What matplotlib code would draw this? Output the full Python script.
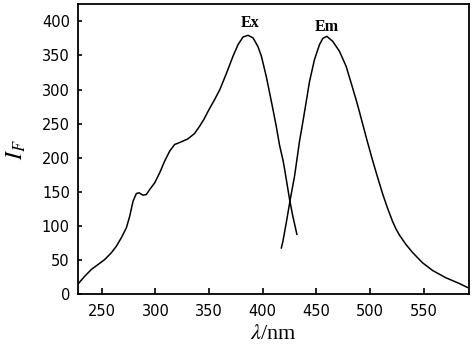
import matplotlib
matplotlib.use("Agg")
import matplotlib.pyplot as plt

plt.rcParams["mathtext.fontset"] = "stix"

# Excitation spectrum (Ex)
ex_wl = [228, 234.2, 240.3, 246.6, 252.8, 258.9, 263.6, 268.2, 272.9, 276, 279.1,
         282.2, 284.7, 288.4, 291.5, 294.6, 299.3, 303.9, 308.5, 313.2, 317.8,
         324, 330.2, 336.4, 341, 345, 350, 355, 360, 366.2, 372.3, 377, 381.6,
         386.3, 391, 395.5, 398.7, 403.3, 406.4, 409.5, 412.6, 415.7, 418.8,
         420.4, 425, 428, 431.8]
ex_int = [15.6, 26.8, 36.6, 43.9, 51.2, 61, 70.7, 83, 97.6, 114.6, 136.5,
          147.8, 148.8, 145.3, 146.3, 153.6, 163.4, 178, 195, 209.7, 219.5,
          223.4, 227.8, 235.6, 246, 256, 271, 285, 300, 324, 349, 366, 377,
          379.5, 375.6, 363, 349, 319, 295, 271, 246, 218, 197,
          183, 139, 114.6, 88]

# Emission spectrum (Em)
em_wl = [417.3, 418.8, 421.9, 425.6, 429.6, 432.7, 434.3, 436, 439, 443.6, 448.2,
         452.9, 456, 459.7, 465.2, 471.5, 477.7, 482.3, 487, 490, 493.2, 497.8,
         502.4, 507.1, 511.7, 516.4, 521, 524.1, 527.2, 533.4, 539.6, 548.9,
         558.2, 570.6, 583, 590.7]
em_int = [68, 78, 105, 139, 173, 207, 225, 240, 268, 312, 344,
          366, 375, 378, 370.6, 356, 334, 310, 285, 268, 249, 222,
          196, 171, 147.3, 125.8, 106.8, 96.1, 87.3, 73.2, 61.4, 46.3,
          35.1, 24.4, 16.1, 10.2]

x_ticks = [250, 300, 350, 400, 450, 500, 550]
y_ticks = [0, 50, 100, 150, 200, 250, 300, 350, 400]

fig = plt.figure(figsize=(4.74, 3.53), dpi=100)
ax = fig.add_axes([0.165, 0.166, 0.824, 0.822])

ax.plot(ex_wl, ex_int, color="black", linewidth=1.1)
ax.plot(em_wl, em_int, color="black", linewidth=1.1)

ax.text(388, 392, "Ex", family="Liberation Serif", fontweight="bold", fontsize=11.5, ha="center", va="baseline")
ax.text(460, 386, "Em", family="Liberation Serif", fontweight="bold", fontsize=11.5, ha="center", va="baseline")

ax.set_xlim(228, 592)
ax.set_ylim(0, 425)
ax.set_xticks(x_ticks)
ax.set_yticks(y_ticks)
ax.tick_params(axis="x", direction="in", length=4, width=1.2, labelsize=10.5, pad=7)
ax.tick_params(axis="y", direction="in", length=3, width=1.2, labelsize=10.5, pad=6)
for lab in ax.get_xticklabels() + ax.get_yticklabels():
    lab.set_family("DejaVu Sans")

for sp in ax.spines.values():
    sp.set_linewidth(1.3)

ax.set_xlabel(r"$\lambda$/nm", family="Liberation Serif", fontsize=16, labelpad=4)
ax.set_ylabel(r"$I_F$", family="Liberation Serif", fontsize=17, labelpad=10)

fig.savefig("out.png", dpi=100)
